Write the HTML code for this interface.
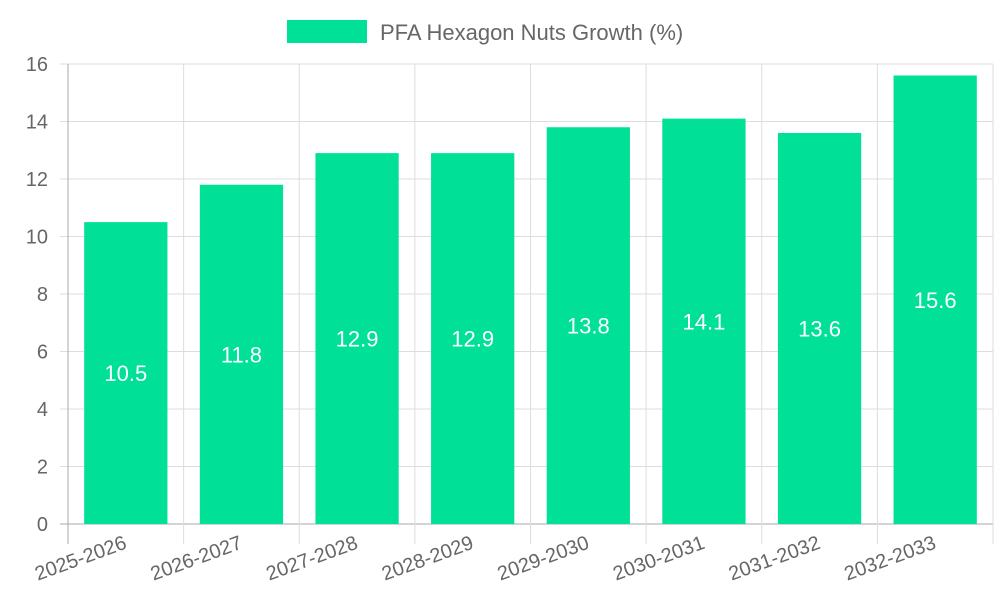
<!DOCTYPE html>
<html><head><meta charset="utf-8"><style>
body{margin:0;background:#fff;}
svg{display:block;font-family:"Liberation Sans",sans-serif;}
</style></head><body>
<svg id="c" width="1000" height="600">
<g>
<rect x="287" y="20" width="80" height="23" fill="#00e096"/>
<text x="380" y="40" font-size="22" fill="#666">PFA Hexagon Nuts Growth (%)</text>
</g>
<g id="grid"></g><g id="bars"></g><g id="axes"></g>
</svg>
<script>
const categories=["2025-2026","2026-2027","2027-2028","2028-2029","2029-2030","2030-2031","2031-2032","2032-2033"];
const values=[10.5,11.8,12.9,12.9,13.8,14.1,13.6,15.6];
const yTicks=[0,2,4,6,8,10,12,14,16];
const NS="http://www.w3.org/2000/svg";
const L=68,R=993,T=64,B=524,yMax=16;
const y=v=>B-(v/yMax)*(B-T);
const bw=(R-L)/categories.length;
const x=i=>L+bw*i;
function mk(p,tag,a){const e=document.createElementNS(NS,tag);for(const k in a)e.setAttribute(k,a[k]);p.appendChild(e);return e;}
const grid=document.getElementById('grid'),bars=document.getElementById('bars'),axes=document.getElementById('axes');
yTicks.forEach(t=>{
 const l=mk(grid,'line',{x1:L-8,x2:R,y1:y(t),y2:y(t),stroke:t===0?'#aaa':'#ddd','stroke-width':1});
 
 
 const tx=mk(axes,'text',{x:L-20,y:y(t)+7,'text-anchor':'end','font-size':20,fill:'#666'});
 tx.textContent=t;
 
 
});
for(let i=0;i<=categories.length;i++){
 const l=mk(grid,'line',{x1:x(i),x2:x(i),y1:T,y2:B+20,stroke:i===0?'#aaa':'#ddd','stroke-width':1});
 
 
}
categories.forEach((c,i)=>{
 const cx=x(i)+bw/2,w=bw*0.72;
 const r=mk(bars,'rect',{x:cx-w/2,y:y(values[i]),width:w,height:B-y(values[i]),fill:'#00e096'});
 
 
 const v=mk(bars,'text',{x:cx,y:(y(values[i])+B)/2+8,'text-anchor':'middle','font-size':22,fill:'#fff'});
 v.textContent=values[i];
 
 
 const t=mk(axes,'text',{x:cx+2,y:B+24,'text-anchor':'end','font-size':20,fill:'#666',transform:`rotate(-20 ${cx+2} ${B+24})`});
 t.textContent=c;
 
 
});
</script>
</body></html>
